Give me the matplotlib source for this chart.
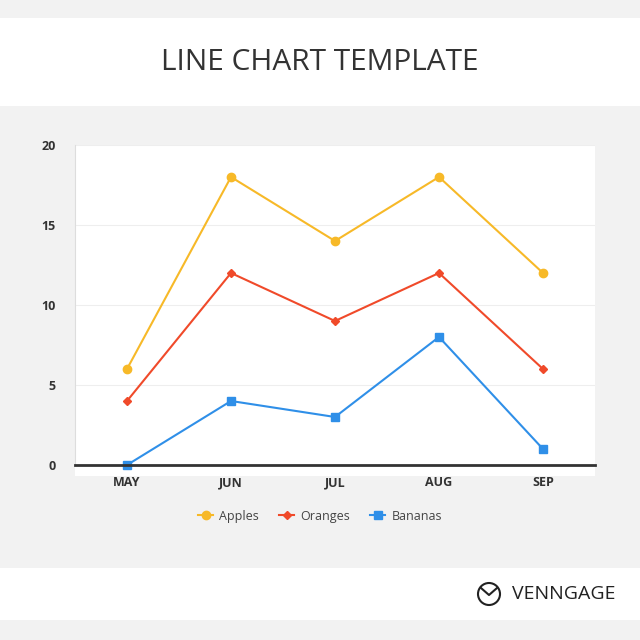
import matplotlib.pyplot as plt
from matplotlib.patches import Rectangle, Circle
import matplotlib.lines as mlines

months = ['MAY', 'JUN', 'JUL', 'AUG', 'SEP']
apples = [6, 18, 14, 18, 12]
oranges = [4, 12, 9, 12, 6]
bananas = [0, 4, 3, 8, 1]
yticks = [0, 5, 10, 15, 20]

W = H = 640.0
fig = plt.figure(figsize=(6.4, 6.4), dpi=100)
fig.patch.set_facecolor('#f2f2f2')

def box(x0, y0, x1, y1, color='white'):
	# pixel coords from top-left
	fig.patches.append(Rectangle((x0 / W, 1 - y1 / H), (x1 - x0) / W, (y1 - y0) / H,
		transform=fig.transFigure, facecolor=color, edgecolor='none', zorder=-5))

box(0, 18, 640, 106)
box(0, 568, 640, 620)
box(75, 145, 595, 476)

fig.text(0.5, 1 - 63 / H, 'LINE CHART TEMPLATE', ha='center', va='center',
	fontsize=21.5, color='#333333', family='Open Sans')

ax = fig.add_axes([75 / W, 1 - 465 / H, 520 / W, 320 / H])
ax.set_facecolor('none')
ax.plot(range(5), apples, color='#f7b928', marker='o', ms=6, lw=1.5, label='Apples')
ax.plot(range(5), oranges, color='#f04a2a', marker='D', ms=4.5, lw=1.5, label='Oranges')
ax.plot(range(5), bananas, color='#2f8fe8', marker='s', ms=6, lw=1.5, label='Bananas', clip_on=False)
ax.set_xlim(-0.5, 4.5)
ax.set_ylim(0, 20)
ax.set_yticks(yticks)
ax.set_xticks(range(5))
ax.set_xticklabels(months)
ax.grid(axis='y', color='#eeeeee', lw=0.8)
ax.set_axisbelow(True)
for s in ['top', 'right']:
	ax.spines[s].set_visible(False)
ax.spines['left'].set_color('#dddddd')
ax.spines['bottom'].set_color('#333333')
ax.spines['bottom'].set_linewidth(2)
ax.tick_params(length=0, labelsize=9, colors='#333333', pad=8)
for t in ax.get_xticklabels() + ax.get_yticklabels():
	t.set_fontweight('bold')
	t.set_family('Open Sans')
ax.tick_params(axis='y', pad=14)

ax.legend(loc='center', bbox_to_anchor=(0.471, -0.16), ncol=3, frameon=False,
	prop={'family': 'Open Sans', 'size': 9}, handlelength=1.2, handletextpad=0.5,
	columnspacing=1.6, labelcolor='#444444')

# logo
fig.text(512 / W, 1 - 594 / H, 'VENNGAGE', ha='left', va='center', fontsize=14,
	color='#222222', family='Open Sans')
fig.patches.append(Circle((489 / W, 1 - 594 / H), 11 / W, transform=fig.transFigure,
	facecolor='none', edgecolor='#222222', lw=1.5))
fig.lines.append(mlines.Line2D([481 / W, 489 / W, 497 / W], [1 - 588 / H, 1 - 595 / H, 1 - 588 / H],
	transform=fig.transFigure, color='#222222', lw=1.5))

fig.savefig('out.png', dpi=100)
